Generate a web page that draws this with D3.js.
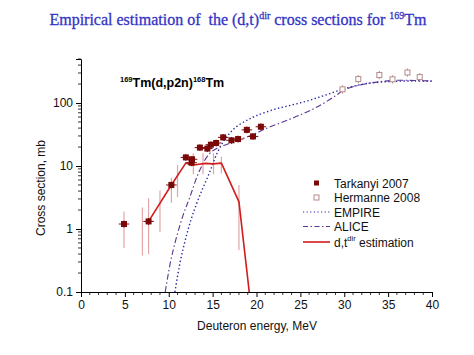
<!DOCTYPE html>
<html><head><meta charset="utf-8">
<script src="https://cdn.jsdelivr.net/npm/d3@7"></script>
<style>body{margin:0;background:#fff}svg{display:block}</style>
</head><body>
<svg id="c" width="474" height="355"></svg>
<script>
// ---- data ----
const tarkanyiE = [4.9, 7.7, 10.3, 11.95, 12.65, 12.6, 13.55, 14.4, 14.8, 15.4, 16.2, 17.15, 17.9, 18.9, 19.6, 20.5];
const tarkanyiV = [1.2, 1.32, 5.0, 13.7, 12.8, 11.3, 19.6, 18.9, 21.8, 23.2, 28.5, 25.6, 26.8, 37.5, 29.5, 42];
const hermanneE = [29.8, 31.6, 34.0, 35.5, 37.2, 38.6];
const hermanneV = [165, 240, 278, 238, 305, 258];
const empireE = [10.7, 11.3, 11.9, 12.6, 13.5, 14.6, 15.6, 16.6, 17.7, 19.0, 20.0, 22.0, 24.0, 26.0, 28.0, 30.0, 32.0, 34.0, 36.0, 38.0, 40.0];
const empireV = [0.1, 0.3, 0.68, 1.5, 3.3, 7.6, 17, 29, 42, 54, 63, 79, 93, 110, 136, 168, 198, 214, 222, 224, 222];
const aliceE = [9.6, 10.2, 10.8, 11.6, 12.4, 13.5, 14.6, 15.6, 16.6, 18.0, 19.5, 21.0, 23.0, 25.0, 27.0, 29.0, 30.0, 32.0, 34.0, 36.0, 38.0, 40.0];
const aliceV = [0.1, 0.3, 0.67, 1.6, 3.2, 8.4, 15.5, 19.5, 22, 26, 31, 39, 50, 65, 88, 130, 162, 196, 218, 230, 228, 224];
const estE = [7.7, 10.3, 11.95, 12.6, 14.2, 15.0, 16.0, 18.0, 19.3];
const estV = [1.32, 5.0, 11.2, 10.3, 11.0, 10.8, 11.1, 2.7, 0.07];
const estBarE = [4.9, 7.0, 7.7, 9.0, 10.3, 11.0, 12.8, 13.9, 15.1, 16.0, 18.0];
const estBarLo = [0.5, 0.38, 0.4, 0.9, 2.6, 3.2, 7.4, 7.4, 7.4, 7.6, 0.46];
const estBarHi = [1.9, 2.2, 3.1, 4.1, 6.5, 10.4, 16, 16, 16, 14, 5.0];
const xTicks = [0, 5, 10, 15, 20, 25, 30, 35, 40];
const yTicks = [0.1, 1, 10, 100];
const legendLabels = ["Tarkanyi 2007", "Hermanne 2008", "EMPIRE", "ALICE", "d,t"];

// ---- layout ----
const svg = d3.select("#c");
const x = d3.scaleLinear().domain([0, 40]).range([81, 432]);
const y = d3.scaleLog().domain([0.1, 500]).range([292, 59]);
const font = "'Liberation Sans', Arial, sans-serif";
const cDark = "#7a0808", cHer = "#b58a8a", cEmp = "#2a2aa8", cAli = "#5c3590", cEst = "#d41c1c", cBar = "#e3a6a6";

// title
const t = svg.append("text").attr("x", 238).attr("y", 25).attr("text-anchor", "middle")
  .attr("font-family", "'Liberation Serif','Times New Roman',serif").attr("font-size", 16)
  .attr("fill", "#3434c4").attr("stroke", "#3434c4").attr("stroke-width", 0.3);
t.append("tspan").text("Empirical estimation of \u00a0the (d,t)");
t.append("tspan").attr("font-size", 10).attr("dy", -6).text("dir");
t.append("tspan").attr("dy", 6).text(" cross sections for ");
t.append("tspan").attr("font-size", 10).attr("dy", -6).text("169");
t.append("tspan").attr("dy", 6).text("Tm");

// clip
svg.append("clipPath").attr("id", "clip").append("rect")
  .attr("x", 81).attr("y", 59).attr("width", 351).attr("height", 233);
const g = svg.append("g").attr("clip-path", "url(#clip)");

// axes
const xAxis = d3.axisBottom(x).tickValues(xTicks).tickSize(5).tickPadding(3).tickFormat(d3.format("d"));
const xg = svg.append("g").attr("transform", "translate(0,292)").call(xAxis);
const xMinor = d3.range(0, 41).filter(v => v % 5 !== 0);
svg.append("g").selectAll("line").data(xMinor).join("line")
  .attr("x1", d => x(d)).attr("x2", d => x(d)).attr("y1", 292).attr("y2", 295)
  .attr("stroke", "#000").attr("stroke-width", 0.8);

const yAxis = d3.axisLeft(y).tickValues(yTicks).tickSize(5).tickPadding(3).tickFormat(d => d === 0.1 ? "0.1" : d3.format("d")(d));
const yg = svg.append("g").attr("transform", "translate(81,0)").call(yAxis);
const yMinor = [];
[0.1, 1, 10, 100].forEach(dec => { for (let k = 2; k <= 9; k++) { const v = dec * k; if (v <= 500) yMinor.push(v); } });
svg.append("g").selectAll("line").data(yMinor).join("line")
  .attr("x1", 78).attr("x2", 81).attr("y1", d => y(d)).attr("y2", d => y(d))
  .attr("stroke", "#000").attr("stroke-width", 0.8);
[xg, yg].forEach(a => {
  a.select(".domain").attr("stroke", "#000").attr("stroke-width", 1);
  a.selectAll(".tick line").attr("stroke", "#000");
  a.selectAll("text").attr("font-family", font).attr("font-size", 12).attr("fill", "#111");
});

// axis titles
svg.append("text").attr("x", 257).attr("y", 330).attr("text-anchor", "middle")
  .attr("font-family", font).attr("font-size", 12).attr("fill", "#111").text("Deuteron energy, MeV");
svg.append("text").attr("transform", "translate(45,188) rotate(-90)").attr("text-anchor", "middle")
  .attr("font-family", font).attr("font-size", 12).attr("fill", "#111").text("Cross section, mb");

// reaction label
const rl = svg.append("text").attr("x", 120).attr("y", 87).attr("font-family", font)
  .attr("font-size", 12.5).attr("font-weight", "bold").attr("fill", "#000");
rl.append("tspan").attr("font-size", 7.5).attr("dy", -5).text("169");
rl.append("tspan").attr("dy", 5).text("Tm(d,p2n)");
rl.append("tspan").attr("font-size", 7.5).attr("dy", -5).text("168");
rl.append("tspan").attr("dy", 5).text("Tm");

// estimation error bars
g.append("g").selectAll("line").data(estBarE).join("line")
  .attr("x1", d => x(d)).attr("x2", d => x(d))
  .attr("y1", (d, i) => y(estBarLo[i])).attr("y2", (d, i) => y(estBarHi[i]))
  .attr("stroke", cBar).attr("stroke-width", 1.2);

// model curves
const line = d3.line().x(d => x(d[0])).y(d => y(d[1])).curve(d3.curveCatmullRom.alpha(0.5));
g.append("path").attr("d", line(empireE.map((e, i) => [e, empireV[i]])))
  .attr("fill", "none").attr("stroke", cEmp).attr("stroke-width", 1.4).attr("stroke-dasharray", "1.4,2.4");
g.append("path").attr("d", line(aliceE.map((e, i) => [e, aliceV[i]])))
  .attr("fill", "none").attr("stroke", cAli).attr("stroke-width", 1.1).attr("stroke-dasharray", "6,2.5,1.5,2.5");

// estimation line
g.append("path").attr("d", d3.line().x(d => x(d[0])).y(d => y(d[1]))(estE.map((e, i) => [e, estV[i]])))
  .attr("fill", "none").attr("stroke", cEst).attr("stroke-width", 1.6);

// Hermanne
const hg = g.append("g");
hermanneE.forEach((e, i) => {
  const v = hermanneV[i];
  hg.append("line").attr("x1", x(e)).attr("x2", x(e)).attr("y1", y(v * 0.86)).attr("y2", y(v * 1.16))
    .attr("stroke", cHer).attr("stroke-width", 1);
  hg.append("rect").attr("x", x(e) - 2.5).attr("y", y(v) - 2.5).attr("width", 5).attr("height", 5)
    .attr("fill", "#fff").attr("stroke", cHer).attr("stroke-width", 1);
});

// Tarkanyi
const tg = g.append("g");
tarkanyiE.forEach((e, i) => {
  const v = tarkanyiV[i];
  tg.append("line").attr("x1", x(e)).attr("x2", x(e)).attr("y1", y(v * 0.88)).attr("y2", y(v * 1.13))
    .attr("stroke", cDark).attr("stroke-width", 1);
  tg.append("line").attr("x1", x(e - 0.6)).attr("x2", x(e + 0.6)).attr("y1", y(v)).attr("y2", y(v))
    .attr("stroke", cDark).attr("stroke-width", 1);
  tg.append("rect").attr("x", x(e) - 3).attr("y", y(v) - 3).attr("width", 6).attr("height", 6)
    .attr("fill", cDark);
});

// legend
const lg = svg.append("g").attr("font-family", font).attr("font-size", 12).attr("fill", "#111");
const ly = [183, 197.5, 212, 226.5, 242];
lg.append("rect").attr("x", 314).attr("y", ly[0] - 2.5).attr("width", 5).attr("height", 5).attr("fill", cDark);
lg.append("rect").attr("x", 314).attr("y", ly[1] - 2.5).attr("width", 5).attr("height", 5).attr("fill", "#fff").attr("stroke", cHer);
lg.append("line").attr("x1", 303).attr("x2", 330).attr("y1", ly[2]).attr("y2", ly[2]).attr("stroke", cEmp).attr("stroke-width", 1.2).attr("stroke-dasharray", "1.2,2.4");
lg.append("line").attr("x1", 303).attr("x2", 330).attr("y1", ly[3]).attr("y2", ly[3]).attr("stroke", cAli).attr("stroke-width", 1.1).attr("stroke-dasharray", "5,2.5,1.5,2.5");
lg.append("line").attr("x1", 303).attr("x2", 330).attr("y1", ly[4]).attr("y2", ly[4]).attr("stroke", cEst).attr("stroke-width", 1.6);
legendLabels.forEach((s, i) => {
  const tx = lg.append("text").attr("x", 334).attr("y", ly[i] + 4.5).text(s);
  if (i === 4) {
    tx.append("tspan").attr("font-size", 7.5).attr("dy", -6).text("dir");
    tx.append("tspan").attr("dy", 6).text(" estimation");
  }
});
</script>
</body></html>
